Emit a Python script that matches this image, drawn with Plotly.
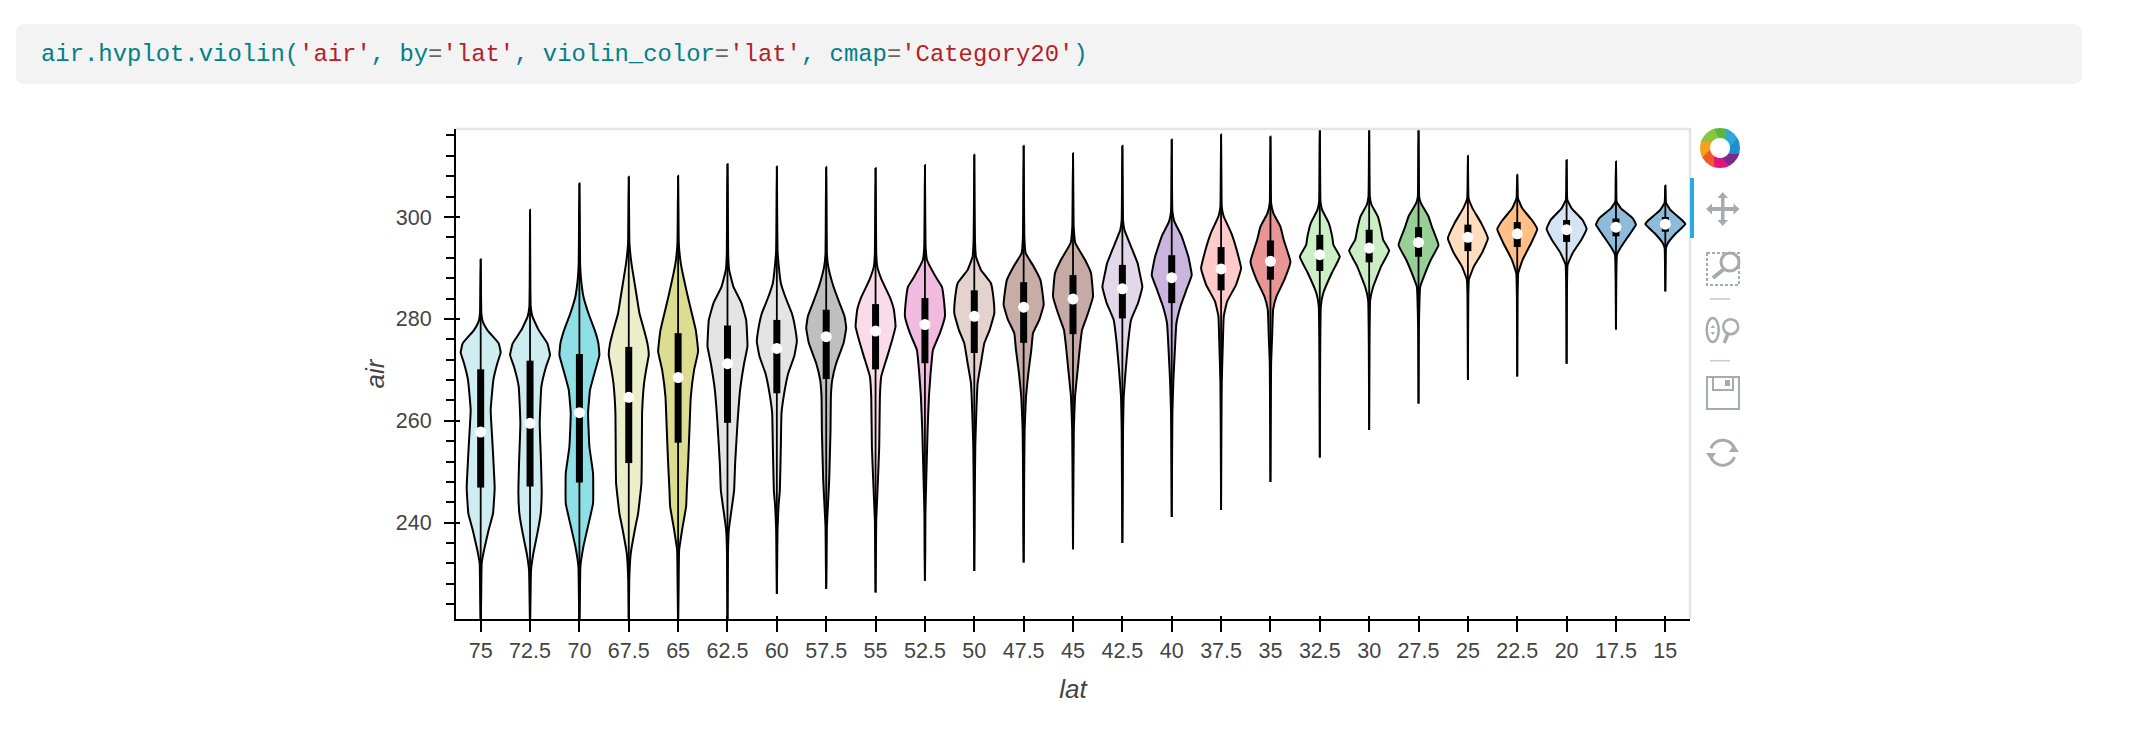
import numpy as np
import plotly.graph_objects as go

lats = ["75", "72.5", "70", "67.5", "65", "62.5", "60", "57.5", "55", "52.5", "50", "47.5", "45",
        "42.5", "40", "37.5", "35", "32.5", "30", "27.5", "25", "22.5", "20", "17.5", "15"]

air_max = [291.7, 301.4, 306.6, 307.9, 308.1, 310.4, 309.9, 309.8, 309.6, 310.2, 312.2, 314.0, 312.5,
           314.0, 315.2, 316.2, 315.8, 319.0, 319.0, 317.2, 312.0, 308.3, 311.2, 310.9, 306.2]
air_q3 = [270.1, 271.8, 273.1, 274.5, 277.2, 278.7, 279.8, 281.8, 282.9, 284.1, 285.6, 287.2, 288.6,
          290.6, 292.5, 294.1, 295.4, 296.5, 297.5, 298.0, 298.5, 299.0, 299.4, 299.7, 300.0]
air_median = [257.8, 259.5, 261.6, 264.6, 268.5, 271.2, 274.2, 276.5, 277.6, 278.9, 280.5, 282.3, 283.9,
              285.9, 288.1, 289.8, 291.3, 292.6, 293.9, 295.0, 296.0, 296.7, 297.5, 298.0, 298.6]
air_q1 = [246.9, 247.1, 247.9, 251.7, 255.7, 259.6, 265.4, 268.2, 270.1, 271.3, 273.3, 275.3, 277.0,
          280.1, 283.1, 285.6, 287.7, 289.4, 291.1, 292.2, 293.3, 294.1, 295.1, 296.2, 297.1]
air_min = [219.0, 219.0, 219.0, 219.0, 219.0, 219.0, 226.0, 227.0, 226.3, 228.6, 230.5, 232.2, 234.8,
           236.0, 241.1, 242.5, 248.0, 252.8, 258.2, 263.4, 268.0, 268.7, 271.2, 277.9, 285.4]

# estimated density outline of each violin, air level and relative density
profile_air = [
    [285.7, 281.1, 279.5, 277.8, 275.2, 273.4, 271.3, 268.0, 262.1, 254.9, 246.8, 241.8, 238.6, 234.6, 232.0, 225.5],
    [286.3, 282.4, 280.5, 277.8, 275.2, 272.9, 270.6, 266.7, 259.5, 251.7, 245.8, 241.8, 237.9, 234.0, 230.7, 225.5],
    [300.1, 290.9, 287.7, 284.4, 281.1, 277.8, 275.2, 272.9, 270.0, 266.1, 261.5, 254.9, 249.7, 243.8, 240.5, 235.3, 231.4, 225.5],
    [300.7, 294.9, 290.9, 284.4, 281.1, 277.8, 275.2, 272.9, 270.0, 267.4, 261.5, 251.7, 247.7, 241.8, 239.2, 234.0, 228.8],
    [301.4, 294.9, 290.9, 284.4, 277.8, 273.6, 270.0, 264.7, 258.2, 251.7, 246.4, 243.2, 238.6, 234.6, 227.4],
    [304.0, 292.9, 289.6, 286.3, 283.1, 279.8, 274.6, 271.3, 266.1, 259.5, 251.7, 246.4, 242.5, 238.6, 234.0, 228.8],
    [300.7, 293.5, 290.9, 287.0, 284.4, 281.1, 277.8, 275.5, 272.6, 269.3, 265.4, 261.5, 254.9, 246.4, 243.2, 238.6, 232.0],
    [302.7, 292.9, 290.3, 286.3, 283.1, 280.5, 278.2, 275.2, 271.3, 268.0, 264.7, 258.2, 248.4, 243.2, 239.2, 232.0],
    [301.4, 292.9, 290.3, 287.7, 284.4, 281.8, 278.5, 275.9, 272.6, 268.7, 264.7, 254.9, 245.1, 240.5, 233.3],
    [300.7, 294.2, 291.6, 288.3, 286.3, 283.7, 280.5, 277.2, 273.9, 269.3, 264.7, 258.2, 248.4, 241.8, 234.0],
    [302.0, 295.5, 292.2, 289.6, 287.0, 284.4, 281.1, 277.8, 275.2, 271.3, 267.4, 261.5, 254.9, 245.1, 238.6],
    [304.7, 296.2, 292.9, 290.3, 287.7, 284.4, 282.7, 279.8, 277.2, 273.9, 269.3, 264.7, 258.2, 248.4, 238.6],
    [305.3, 298.1, 294.9, 291.6, 289.0, 284.4, 281.1, 277.8, 274.6, 270.0, 264.7, 258.2, 245.1],
    [306.0, 299.4, 297.5, 294.2, 290.9, 289.0, 286.3, 283.1, 279.8, 275.2, 270.0, 264.7, 258.2, 245.1],
    [305.3, 301.1, 299.1, 296.2, 292.2, 288.6, 285.7, 282.4, 279.1, 274.6, 268.0, 261.5, 251.7],
    [307.9, 302.0, 300.1, 296.8, 293.5, 289.9, 286.7, 283.4, 280.5, 274.6, 267.4, 258.2],
    [309.2, 302.7, 300.7, 298.1, 295.5, 291.2, 287.7, 284.4, 281.8, 276.5, 271.3, 261.5],
    [308.6, 303.0, 301.4, 298.8, 296.2, 294.5, 292.2, 289.0, 285.0, 282.4, 271.3],
    [308.6, 304.0, 302.4, 300.1, 297.5, 295.5, 293.4, 290.3, 286.3, 283.7, 274.6],
    [309.2, 304.0, 302.7, 300.1, 298.1, 294.5, 291.6, 288.3, 286.3, 277.8],
    [306.0, 303.7, 301.7, 298.8, 295.8, 292.9, 290.3, 287.7, 284.4],
    [306.0, 303.7, 301.7, 299.4, 297.6, 294.9, 291.6, 289.0, 284.4],
    [305.3, 303.4, 301.7, 299.4, 297.7, 295.5, 292.9, 290.6, 285.7],
    [306.6, 303.0, 301.7, 299.8, 298.5, 296.5, 294.2, 292.6, 287.7],
    [304.0, 302.8, 301.4, 299.4, 298.6, 296.8, 294.9, 293.9, 290.9],
]
profile_density = [
    [1, 2, 6, 20, 54, 60, 50, 38, 30, 36, 42, 37, 24, 10, 3, 1.5],
    [1, 2, 7, 26, 52, 60, 48, 34, 29, 33, 35, 32, 22, 10, 3, 1.5],
    [1, 2, 5, 12, 27, 46, 57, 60, 48, 32, 26, 30, 41, 41, 30, 12, 3, 1.5],
    [1, 2, 8, 24, 32, 46, 56, 60, 52, 46, 40, 39, 38, 28, 20, 6, 1.5],
    [1, 2, 8, 29, 53, 60, 48, 38, 34, 30, 26, 24, 12, 3, 1.5],
    [1, 2, 5, 18, 42, 56, 60, 50, 38, 30, 23, 20, 12, 4, 1.5, 1],
    [1, 2, 5, 12, 25, 45, 56, 60, 52, 34, 22, 14, 12, 9, 5, 2, 1],
    [1, 2, 6, 22, 40, 55, 60, 52, 30, 18, 14, 13, 9, 5, 2, 1],
    [1, 2, 5, 18, 42, 55, 60, 50, 35, 17, 13, 11, 5, 2, 1],
    [1, 2, 6, 32, 51, 57, 60, 45, 24, 17, 12, 8, 4, 1.5, 1],
    [1, 2, 5, 20, 50, 57, 60, 46, 30, 20, 10, 6, 3, 1.5, 1],
    [1, 2, 6, 30, 50, 58, 60, 47, 28, 23, 14, 7, 3, 1.5, 1],
    [1, 2, 7, 36, 54, 60, 45, 27, 21, 14, 6, 2.5, 1],
    [1, 2, 6, 26, 46, 52, 60, 47, 26, 17, 10, 4, 2, 1],
    [1, 2, 8, 30, 50, 60, 44, 26, 14, 10, 5, 2, 1],
    [1, 2, 8, 31, 47, 60, 45, 18, 8, 5, 2, 1],
    [1, 2, 9, 30, 40, 60, 42, 18, 8, 5, 2, 1],
    [1, 2, 7, 27, 37, 41, 60, 36, 10, 3, 1],
    [1, 2, 7, 26, 36, 42, 60, 36, 12, 3, 1],
    [1, 2, 7, 30, 40, 60, 37, 16, 5, 1],
    [1, 2, 14, 40, 60, 42, 18, 3, 1.2],
    [1, 2, 15, 44, 60, 42, 16, 3, 1],
    [1, 2, 15, 48, 60, 44, 18, 3, 1],
    [1, 2, 15, 50, 60, 40, 16, 3, 1],
    [1, 2, 15, 50, 60, 32, 8, 2, 1],
]
fill_colors = ["#cfedf1", "#cfedf1", "#8fe0e6", "#eceecb", "#dddd92", "#e4e4e4", "#e4e4e4", "#bfbfbf", "#fadbe9",
               "#f0bbdf", "#e4d2cf", "#c7aca7", "#c5aaa5", "#e2d8e9", "#c9b5de", "#ffcbca", "#e89595", "#ccefc5",
               "#cceec5", "#96d096", "#ffddbd", "#ffbf86", "#d6e3f3", "#8fbbdb", "#8fbbdb"]

PLOT_L, PLOT_R, PLOT_T, PLOT_B = 456, 1690, 129, 619
HALF_WIDTH = 0.405
ICON = "#a5abae"
TEAL = "#008088"
RED = "#b5202a"

code_parts = [("air.hvplot.violin(", TEAL), ("'air'", RED), (", by", TEAL), ("=", "#666666"),
              ("'lat'", RED), (", violin_color", TEAL), ("=", "#666666"), ("'lat'", RED),
              (", cmap", TEAL), ("=", "#666666"), ("'Category20'", RED), (")", TEAL)]


def pt(x, y):
    # page pixels to paper coordinates
    return f"{(x - PLOT_L) / (PLOT_R - PLOT_L):.5f},{(PLOT_B - y) / (PLOT_B - PLOT_T):.5f}"


def poly(points, close=True):
    return "M" + " L".join(pt(x, y) for x, y in points) + (" Z" if close else "")


def arc(cx, cy, r, a0, a1, n=24):
    return [(cx + r * np.cos(a), cy + r * np.sin(a)) for a in np.radians(np.linspace(a0, a1, n))]


def box_shape(x0, y0, x1, y1, **kw):
    return dict(type="rect", xref="paper", yref="paper",
                x0=(x0 - PLOT_L) / (PLOT_R - PLOT_L), x1=(x1 - PLOT_L) / (PLOT_R - PLOT_L),
                y0=(PLOT_B - y0) / (PLOT_B - PLOT_T), y1=(PLOT_B - y1) / (PLOT_B - PLOT_T), **kw)


def circle_shape(cx, cy, rx, ry, **kw):
    s = box_shape(cx - rx, cy - ry, cx + rx, cy + ry, **kw)
    s["type"] = "circle"
    return s


def path_shape(path, fill=None, color=ICON, width=0):
    s = dict(type="path", xref="paper", yref="paper", path=path, line=dict(color=color, width=width))
    if fill:
        s["fillcolor"] = fill
    return s


fig = go.Figure()

for i in range(len(lats)):
    air = np.array([air_max[i]] + profile_air[i] + [air_min[i]])
    dens = np.array([0] + profile_density[i] + [0]) / max(profile_density[i])
    fig.add_trace(go.Scatter(
        x=np.concatenate([i + HALF_WIDTH * dens, (i - HALF_WIDTH * dens)[::-1]]),
        y=np.concatenate([air, air[::-1]]),
        mode="lines", fill="toself", fillcolor=fill_colors[i],
        line=dict(color="black", width=2, shape="spline", smoothing=0.3), hoverinfo="skip"))

whisker_x, whisker_y, box_x, box_y = [], [], [], []
for i in range(len(lats)):
    whisker_x += [i, i, None]
    whisker_y += [air_min[i], air_max[i], None]
    box_x += [i, i, None]
    box_y += [air_q1[i], air_q3[i], None]
fig.add_trace(go.Scatter(x=whisker_x, y=whisker_y, mode="lines", line=dict(color="black", width=1.8)))
fig.add_trace(go.Scatter(x=box_x, y=box_y, mode="lines", line=dict(color="black", width=7)))
fig.add_trace(go.Scatter(x=list(range(len(lats))), y=air_median, mode="markers",
                         marker=dict(color="white", size=11, line=dict(width=0))))
# invisible trace so the short inner ticks get their own axes
fig.add_trace(go.Scatter(x=[0], y=[300], xaxis="x2", yaxis="y2", mode="markers", marker=dict(opacity=0),
                         hoverinfo="skip"))

shapes = [
    # code cell
    path_shape(poly(arc(24, 32, 8, 180, 270, 6) + arc(2074, 32, 8, -90, 0, 6) + arc(2074, 76, 8, 0, 90, 6)
                    + arc(24, 76, 8, 90, 180, 6)), fill="#f3f3f3", color="#f3f3f3"),
    # plot outline and active tool marker
    path_shape(poly([(PLOT_L, PLOT_T), (PLOT_R, PLOT_T), (PLOT_R, PLOT_B)], close=False), color="#e5e5e5", width=2.5),
    box_shape(1690, 178, 1694, 238, fillcolor="#26aae1", line=dict(width=0)),
    # pan tool
    path_shape(poly([(1722.7, 192), (1728, 198), (1724.5, 198), (1724.5, 207), (1733.5, 207), (1733.5, 203.5),
                     (1739.5, 209), (1733.5, 214.5), (1733.5, 211), (1724.5, 211), (1724.5, 220), (1728, 220),
                     (1722.7, 226), (1717.5, 220), (1721, 220), (1721, 211), (1712, 211), (1712, 214.5),
                     (1706, 209), (1712, 203.5), (1712, 207), (1721, 207), (1721, 198), (1717.5, 198)]), fill=ICON),
    # box zoom tool
    box_shape(1707, 253, 1739, 285, line=dict(color=ICON, width=2, dash="3px,2px")),
    circle_shape(1730, 262, 9, 9, fillcolor="white", line=dict(color=ICON, width=3)),
    path_shape(poly([(1724.5, 268.5), (1713, 278)], close=False), width=4),
    path_shape(poly([(1710, 299), (1730, 299)], close=False), color="#c8c8c8", width=1.5),
    # wheel zoom tool
    circle_shape(1712.7, 330, 6, 12, line=dict(color=ICON, width=2.5)),
    path_shape(poly([(1710.5, 328), (1712.7, 325), (1714.9, 328)]), fill=ICON),
    path_shape(poly([(1710.5, 332), (1712.7, 335), (1714.9, 332)]), fill=ICON),
    circle_shape(1730.7, 326.7, 7.5, 7.5, line=dict(color=ICON, width=2.5)),
    path_shape(poly([(1728, 333.5), (1724.3, 343)], close=False), width=3.5),
    path_shape(poly([(1710, 360.7), (1730, 360.7)], close=False), color="#c8c8c8", width=1.5),
    # save tool
    box_shape(1707, 377, 1739, 409, line=dict(color=ICON, width=2)),
    path_shape(poly([(1713, 377), (1713, 390), (1733, 390), (1733, 377)], close=False), width=2),
    box_shape(1725, 380, 1730, 386, fillcolor=ICON, line=dict(width=0)),
    # reset tool
    path_shape(poly(arc(1722.7, 452.7, 12.5, 200, 335), close=False), width=3),
    path_shape(poly(arc(1722.7, 452.7, 12.5, 20, 155), close=False), width=3),
    path_shape(poly([(1729, 452), (1739, 452), (1734, 445)]), fill=ICON),
    path_shape(poly([(1706, 453), (1716, 453), (1711, 460)]), fill=ICON),
]
# logo ring
logo_colors = ["#5ab738", "#2fa7dc", "#1f8fc9", "#7b2a90", "#e4127d", "#f05a28", "#f9a01c", "#8cc63f"]
for k, c in enumerate(logo_colors):
    a0, a1 = -112.5 + k * 45, -67.5 + k * 45
    shapes.append(path_shape(poly(arc(1720, 148, 20, a0 - 6, a1 + 6, 5) + arc(1720, 148, 10, a1 + 14, a0 + 14, 5)), fill=c))

code_text = "".join(f'<span style="color:{c}">{t}</span>' for t, c in code_parts)

fig.update_layout(
    width=2142, height=740, autosize=False, showlegend=False,
    paper_bgcolor="white", plot_bgcolor="white",
    margin=dict(l=PLOT_L, r=2142 - PLOT_R, t=PLOT_T, b=740 - PLOT_B, pad=0),
    font=dict(family="Liberation Sans", color="#444444"),
    shapes=shapes,
    annotations=[dict(text=code_text, xref="paper", yref="paper", x=(39 - PLOT_L) / (PLOT_R - PLOT_L),
                      y=(PLOT_B - 55) / (PLOT_B - PLOT_T), xanchor="left", yanchor="middle", showarrow=False,
                      font=dict(family="Liberation Mono", size=23.9))],
    xaxis=dict(range=[-0.5, 24.5], tickmode="array", tickvals=list(range(len(lats))), ticktext=lats,
               showgrid=False, zeroline=False, showline=True, linecolor="black", linewidth=2,
               ticks="outside", ticklen=11, tickwidth=2, tickcolor="black", ticklabelstandoff=0,
               tickfont=dict(size=21.5, color="#444444"),
               title=dict(text="lat", standoff=18, font=dict(size=26, style="italic", color="#444444"))),
    yaxis=dict(range=[221.1, 317.27], tickmode="linear", tick0=0, dtick=20,
               showgrid=False, zeroline=False, showline=True, linecolor="black", linewidth=2,
               ticks="outside", ticklen=10, tickwidth=2, tickcolor="black", ticklabelstandoff=8,
               tickfont=dict(size=21.5, color="#444444"),
               minor=dict(tickmode="linear", tick0=0, dtick=4, ticks="outside", ticklen=8, tickwidth=2,
                          tickcolor="black", showgrid=False),
               title=dict(text="air", standoff=4, font=dict(size=26, style="italic", color="#444444"))),
    xaxis2=dict(range=[-0.5, 24.5], overlaying="x", anchor="y2", tickmode="array", tickvals=list(range(len(lats))),
                ticks="inside", ticklen=3, tickwidth=2, tickcolor="black", showticklabels=False, showgrid=False,
                zeroline=False, showline=False),
    yaxis2=dict(range=[221.1, 317.27], overlaying="y", anchor="x2", tickmode="linear", tick0=0, dtick=20,
                ticks="inside", ticklen=4, tickwidth=2, tickcolor="black", showticklabels=False, showgrid=False,
                zeroline=False, showline=False),
)

fig.write_html("out.html", config=dict(displayModeBar=False),
               post_script="document.body.style.margin='0';")
